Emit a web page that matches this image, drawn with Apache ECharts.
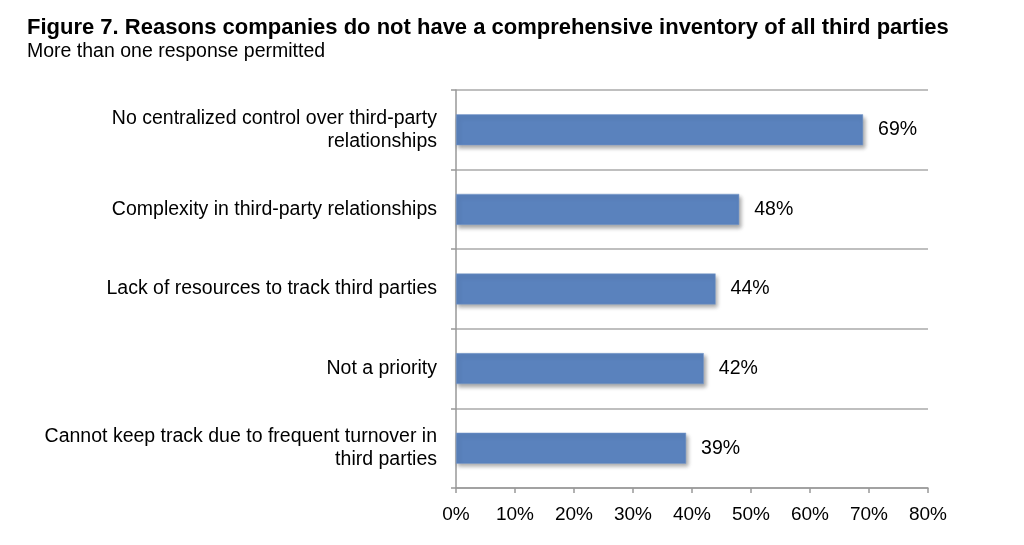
<!DOCTYPE html>
<html>
<head>
<meta charset="utf-8">
<script src="https://cdn.jsdelivr.net/npm/echarts@6/dist/echarts.min.js"></script>
<style>
html,body{margin:0;padding:0;background:#fff;}
#c{width:1024px;height:545px;}
</style>
</head>
<body>
<div id="c"></div>
<script>
var titleText = 'Figure 7. Reasons companies do not have a comprehensive inventory of all third parties';
var subtitleText = 'More than one response permitted';
var categories = [
  'No centralized control over third-party\nrelationships',
  'Complexity in third-party relationships',
  'Lack of resources to track third parties',
  'Not a priority',
  'Cannot keep track due to frequent turnover in\nthird parties'
];
var values = [69, 48, 44, 42, 39];
var xTicks = [0, 10, 20, 30, 40, 50, 60, 70, 80];

var FONT = 'Liberation Sans, Arial, Helvetica, sans-serif';
var chart = echarts.init(document.getElementById('c'));
chart.setOption({
  animation: false,
  title: {
    text: titleText,
    subtext: subtitleText,
    left: 22,
    top: 12,
    itemGap: 3,
    textStyle: {fontFamily: FONT, fontWeight: 'bold', fontSize: 22, color: '#000'},
    subtextStyle: {fontFamily: FONT, fontSize: 19.5, color: '#000'}
  },
  grid: {left: 456, right: 96, top: 90, bottom: 57, containLabel: false},
  xAxis: {
    type: 'value',
    min: xTicks[0],
    max: xTicks[xTicks.length - 1],
    interval: 10,
    axisLine: {show: true, lineStyle: {color: '#999', width: 1.5}},
    axisTick: {show: true, length: 5, lineStyle: {color: '#999', width: 1.5}},
    splitLine: {show: false},
    axisLabel: {formatter: '{value}%', color: '#000', fontSize: 19, margin: 17, fontFamily: FONT}
  },
  yAxis: {
    type: 'category',
    inverse: true,
    data: categories,
    axisLine: {show: true, lineStyle: {color: '#999', width: 1.5}},
    axisTick: {show: true, length: 5, lineStyle: {color: '#999', width: 1.5}},
    splitLine: {show: true, lineStyle: {color: '#aaa', width: 1.5}},
    axisLabel: {color: '#000', fontSize: 19.5, margin: 19, lineHeight: 23, align: 'right', fontFamily: FONT}
  },
  series: [{
    type: 'bar',
    data: values,
    barWidth: 31,
    itemStyle: {
      color: '#5a82bd',
      borderColor: '#7d9dcc',
      borderWidth: 0.5,
      shadowColor: 'rgba(0,0,0,0.35)',
      shadowBlur: 4,
      shadowOffsetX: 2,
      shadowOffsetY: 3
    },
    label: {
      show: true,
      position: 'right',
      distance: 15,
      formatter: '{c}%',
      color: '#000',
      fontSize: 19.5,
      fontFamily: FONT
    }
  }]
});
</script>
</body>
</html>
